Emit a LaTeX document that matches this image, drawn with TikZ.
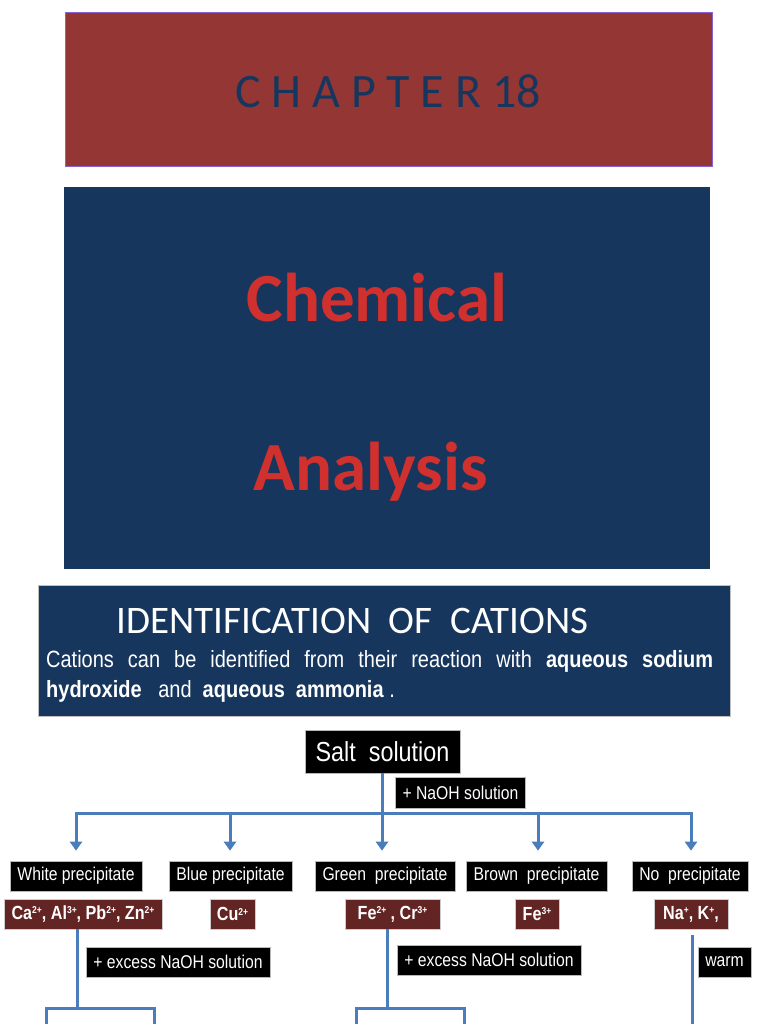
\documentclass[tikz,border=0pt]{standalone}
\usepackage{fontspec}
\usetikzlibrary{arrows.meta}
\setmainfont{Carlito}
\newfontfamily\narrowsf{Liberation Sans}[FakeStretch=0.85]
\definecolor{chapred}{HTML}{943634}
\definecolor{navy}{HTML}{17365D}
\definecolor{titlered}{HTML}{D0302E}
\definecolor{ionred}{HTML}{632523}
\definecolor{flowblue}{HTML}{4A7EBB}
\definecolor{purpleedge}{HTML}{8A63D2}
\newcommand{\sups}[1]{\raisebox{0.55ex}{\fontsize{10}{10}\selectfont #1}}
\begin{document}
\begin{tikzpicture}[x=1pt,y=-1pt,
  blackbox/.style={fill=black, draw=gray!55, line width=0.6pt, text=white, inner sep=0pt, font=\narrowsf\fontsize{18.5}{20}\selectfont},
  ionbox/.style={fill=ionred, draw=gray!40, line width=0.6pt, text=white, inner sep=0pt, font=\narrowsf\bfseries\fontsize{19}{20}\selectfont},
  flow/.style={draw=flowblue, line width=3pt},
  arr/.style={flow, -{Triangle[width=12pt,length=9pt]}, shorten >=10pt}]
\useasboundingbox (0,0) rectangle (768,1024);
\fill[white] (0,0) rectangle (768,1024);
% Chapter header
\path[fill=chapred, draw=purpleedge, line width=0.8pt] (65,12) rectangle (712,166);
\node[anchor=base, text=navy, font=\fontsize{48}{50}\selectfont, inner sep=0pt] (chap) at (388,108) {C H A P T E R 18};
% Title box
\fill[navy] (64,187) rectangle (710,569);
\node[anchor=base, text=titlered, font=\bfseries\fontsize{69}{72}\selectfont, inner sep=0pt] (chem) at (377,321) {Chemical};
\node[anchor=base, text=titlered, font=\bfseries\fontsize{69}{72}\selectfont, inner sep=0pt] (anal) at (370.5,490) {Analysis};
% Identification box
\path[fill=navy, draw=gray!50, line width=0.8pt] (38,585) rectangle (730,716);
\node[anchor=base, text=white, font=\fontsize{39}{42}\selectfont, inner sep=0pt] (ident) at (352.5,633) {IDENTIFICATION\ \ OF\ \ CATIONS};
\node[anchor=base west, text width=667pt, align=justify, inner sep=0pt, text=white, font=\narrowsf\fontsize{23.5}{30}\selectfont] (body) at (46,667)
  {Cations can be identified from their reaction with \textbf{aqueous sodium}\linebreak \textbf{hydroxide}\ \ \ and\ \ \textbf{aqueous\ \ ammonia}\ .};
% Flowchart
\node[blackbox, minimum width=155pt, minimum height=43pt, font=\narrowsf\fontsize{27.5}{30}\selectfont] (salt) at (382.5,751.5) {Salt\ \ solution};
\node[blackbox, minimum width=130pt, minimum height=31pt] (naoh) at (460.5,793) {+ NaOH solution};
\node[blackbox, minimum width=132pt, minimum height=30pt] (white) at (76,876) {White precipitate};
\node[blackbox, minimum width=123pt, minimum height=30pt] (blue) at (230.5,876) {Blue precipitate};
\node[blackbox, minimum width=140pt, minimum height=30pt] (green) at (385,876) {Green\ \ precipitate};
\node[blackbox, minimum width=141pt, minimum height=30pt] (brown) at (536.5,876) {Brown\ \ precipitate};
\node[blackbox, minimum width=116pt, minimum height=30pt] (nop) at (690,876) {No\ \ precipitate};
\node[ionbox, minimum width=158pt, minimum height=30pt] (ca) at (83,914) {Ca\sups{2+}, Al\sups{3+}, Pb\sups{2+}, Zn\sups{2+}};
\node[ionbox, minimum width=45pt, minimum height=30pt] (cu) at (232.5,914) {Cu\sups{2+}};
\node[ionbox, minimum width=95pt, minimum height=30pt] (fe2) at (392.5,914) {Fe\sups{2+} , Cr\sups{3+}};
\node[ionbox, minimum width=44pt, minimum height=30pt] (fe3) at (537,914) {Fe\sups{3+}};
\node[ionbox, minimum width=74pt, minimum height=30pt] (na) at (691,914) {Na\sups{+}, K\sups{+},};
\node[blackbox, minimum width=184pt, minimum height=30pt] (ex1) at (178,962) {+ excess NaOH solution};
\node[blackbox, minimum width=184pt, minimum height=30pt] (ex2) at (489,960) {+ excess NaOH solution};
\node[blackbox, minimum width=53pt, minimum height=30pt] (warm) at (724.5,962) {warm};
% connectors
\coordinate (bar) at (382,813);
\coordinate (a1) at (76,813);
\coordinate (a2) at (230,813);
\coordinate (a4) at (538,813);
\coordinate (a5) at (691,813);
\draw[flow] (salt.south -| bar) -- (bar);
\draw[flow, line cap=rect] (a1) -- (a5);
\draw[arr] (a1) -- (a1 |- white.north);
\draw[arr] (a2) -- (a2 |- blue.north);
\draw[arr] (bar) -- (bar |- green.north);
\draw[arr] (a4) -- (a4 |- brown.north);
\draw[arr] (a5) -- (a5 |- nop.north);
% lower left bracket
\coordinate (b1) at (77,1008);
\coordinate (b1l) at (46,1008);
\coordinate (b1r) at (154,1008);
\draw[flow] (b1 |- ca.south) -- (b1);
\draw[flow] (b1l |- 0,1030) -- (b1l) -- (b1r) -- (b1r |- 0,1030);
% lower middle bracket
\coordinate (b2) at (387,1008);
\coordinate (b2l) at (356,1008);
\coordinate (b2r) at (464,1008);
\draw[flow] (b2 |- fe2.south) -- (b2);
\draw[flow] (b2l |- 0,1030) -- (b2l) -- (b2r) -- (b2r |- 0,1030);
% right line
\coordinate (r1) at (692,935);
\coordinate (r2) at (692,1030);
\draw[flow] (r1) -- (r2);
\end{tikzpicture}
\end{document}
